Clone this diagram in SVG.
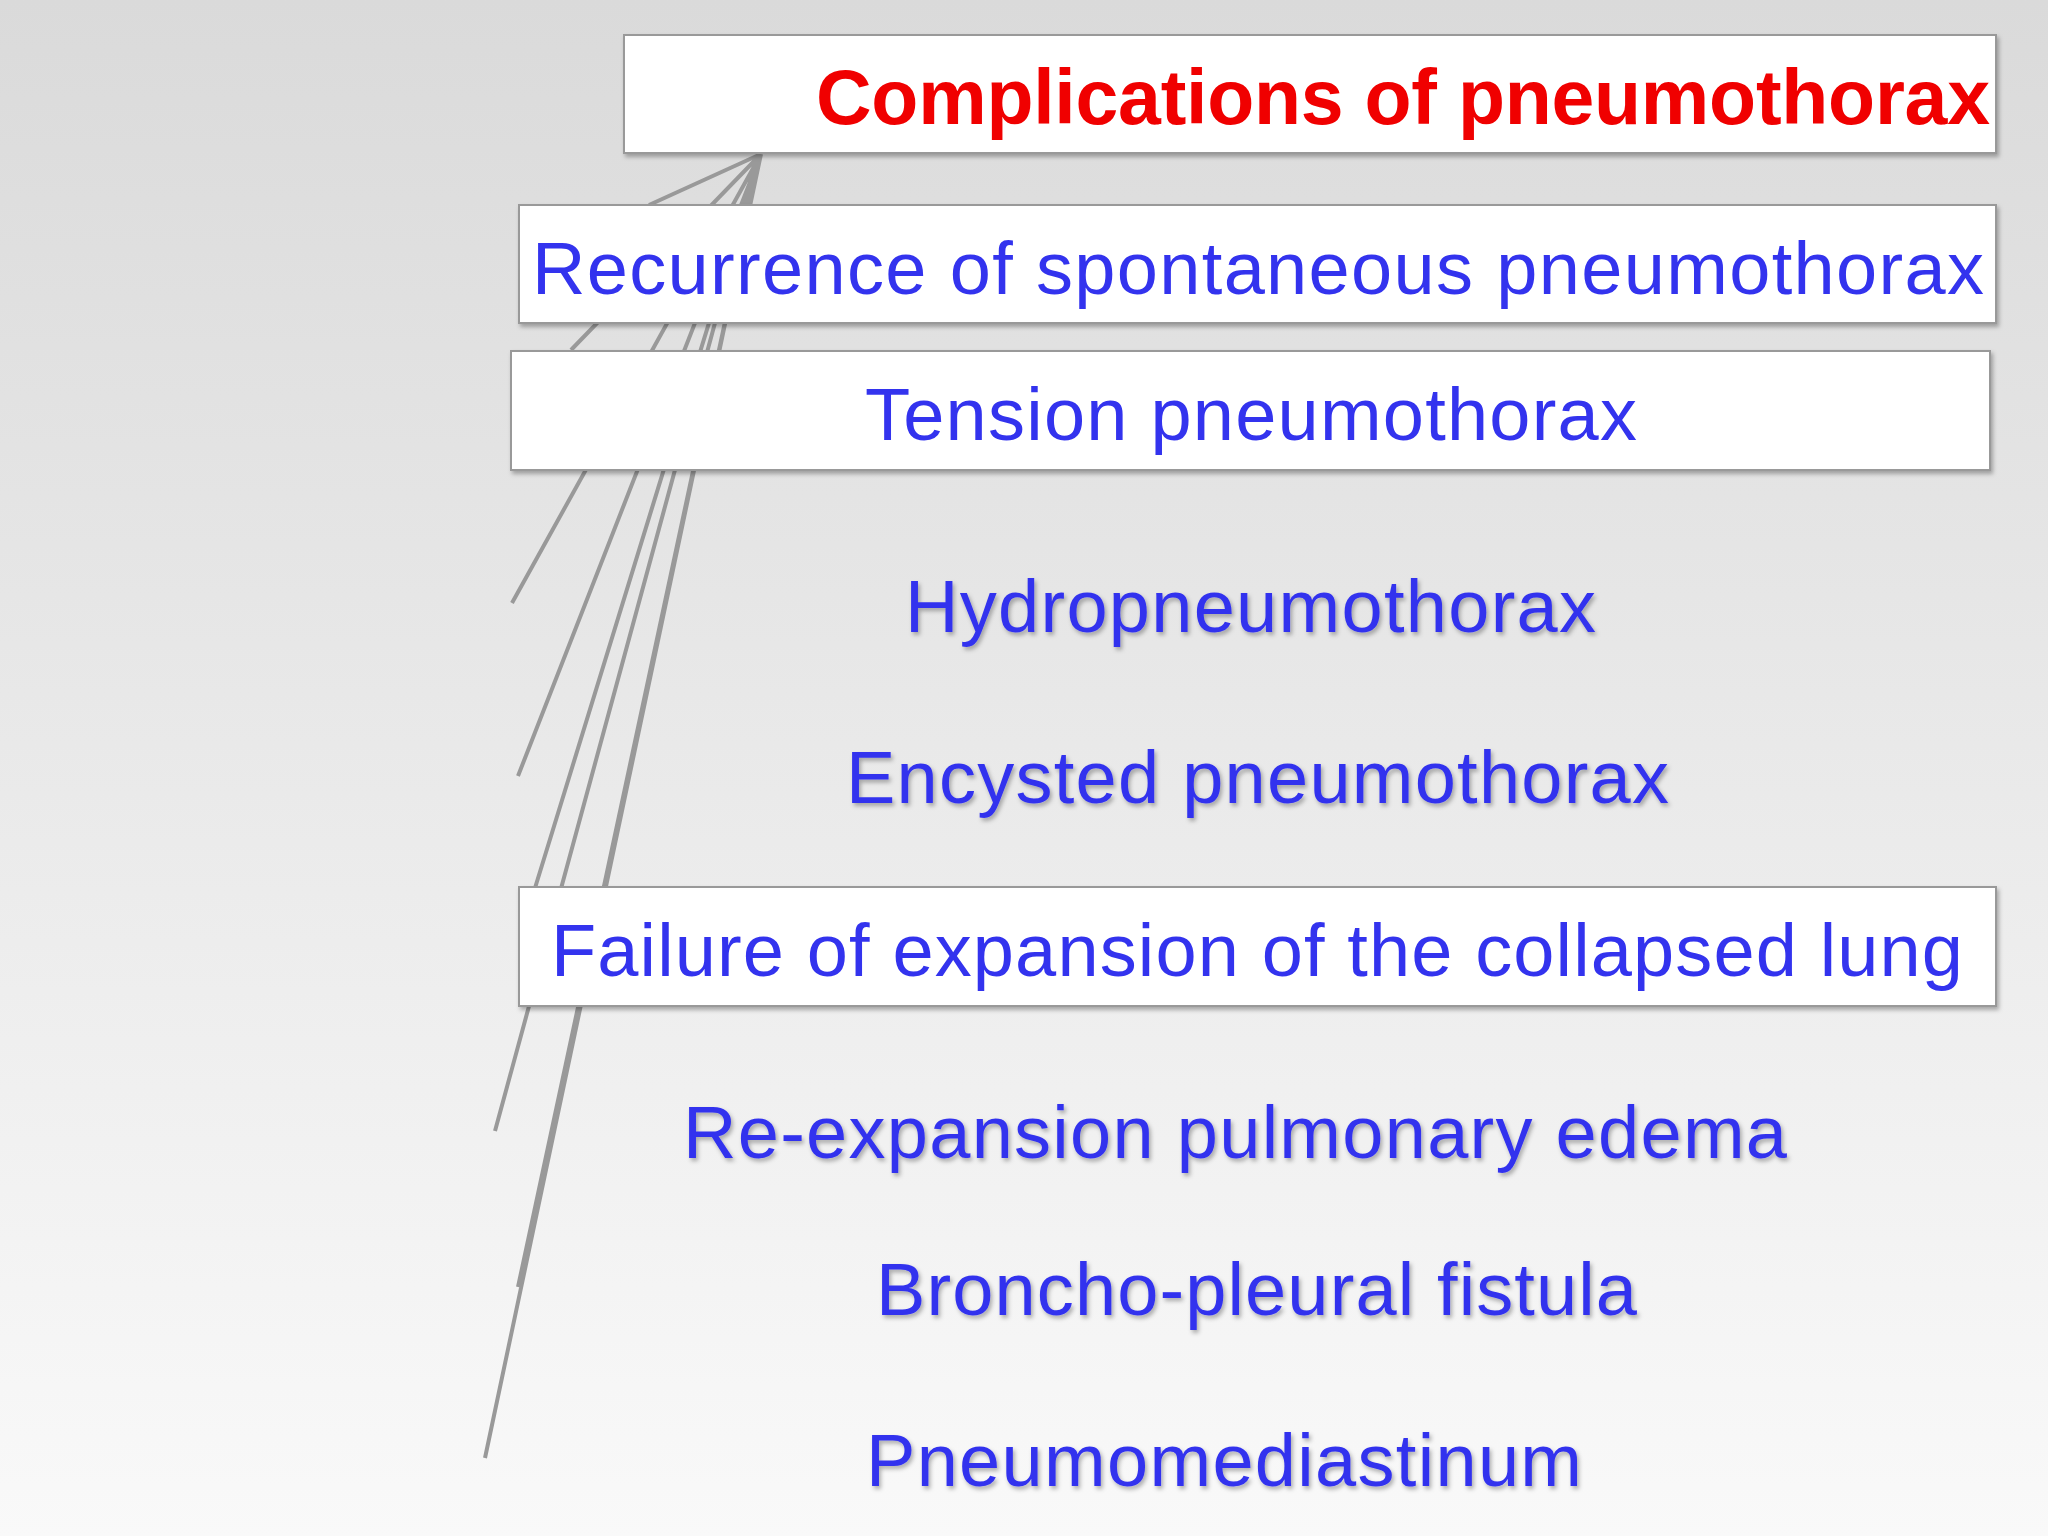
<svg xmlns="http://www.w3.org/2000/svg" width="2048" height="1536" viewBox="0 0 2048 1536">
<defs>
<linearGradient id="bg" x1="0" y1="0" x2="0" y2="1"><stop offset="0" stop-color="#dadada"/><stop offset="1" stop-color="#f9f9f9"/></linearGradient>
<filter id="sh" x="-5%" y="-20%" width="110%" height="150%"><feDropShadow dx="2" dy="3" stdDeviation="2" flood-color="#000" flood-opacity="0.3"/></filter>
</defs>
<style>
.box{fill:#fff;stroke:#999;stroke-width:2;filter:url(#sh)}
.t{font-family:"Liberation Sans",Arial,sans-serif;font-size:74px;fill:#3333ee}
.s{filter:url(#sh)}
.c{stroke:#999;stroke-width:4;fill:none}
</style>
<rect width="2048" height="1536" fill="url(#bg)"/>
<g id="connectors">
<path class="c" d="M761 154L649 205M761 154L571 350M761 154L512 603M761 154L518 776M761 154L535 888M761 154L495 1131M761 154L518 1287M761 154L485 1458"/>
</g>
<g id="title"><rect class="box" x="624" y="35" width="1372" height="118"/>
<text x="1990" y="124" text-anchor="end" font-family="Liberation Sans,Arial,sans-serif" font-weight="bold" font-size="77" fill="#f00000" textLength="1174">Complications of pneumothorax</text></g>
<g id="n1"><rect class="box" x="519" y="205" width="1477" height="118"/>
<text class="t" x="532" y="294" textLength="1452">Recurrence of spontaneous pneumothorax</text></g>
<g id="n2"><rect class="box" x="511" y="351" width="1479" height="119"/>
<text class="t" x="865" y="440" textLength="772">Tension pneumothorax</text></g>
<g id="n3"><text class="t s" x="905" y="632" textLength="691">Hydropneumothorax</text></g>
<g id="n4"><text class="t s" x="846" y="803" textLength="823">Encysted pneumothorax</text></g>
<g id="n5"><rect class="box" x="519" y="887" width="1477" height="119"/>
<text class="t" x="551" y="976" textLength="1412">Failure of expansion of the collapsed lung</text></g>
<g id="n6"><text class="t s" x="683" y="1158" textLength="1104">Re-expansion pulmonary edema</text></g>
<g id="n7"><text class="t s" x="876" y="1315" textLength="761">Broncho-pleural fistula</text></g>
<g id="n8"><text class="t s" x="866" y="1486" textLength="716">Pneumomediastinum</text></g>
</svg>
